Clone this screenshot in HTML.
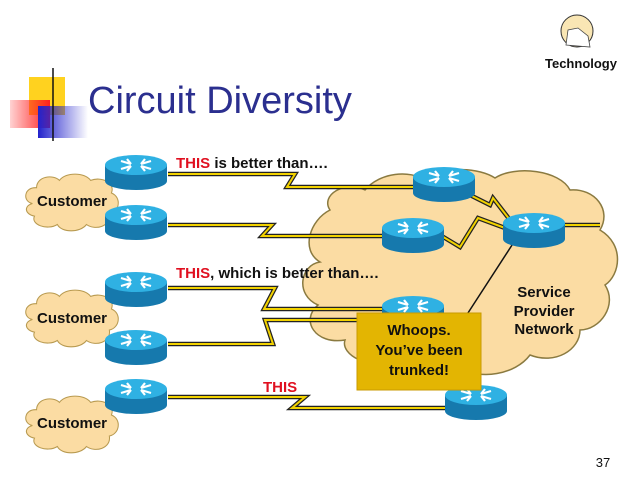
<!DOCTYPE html>
<html><head><style>
body{margin:0;background:#fff;width:638px;height:478px;overflow:hidden;font-family:"Liberation Sans",Arial,sans-serif}
</style></head><body>
<svg width="638" height="478" viewBox="0 0 638 478" xmlns="http://www.w3.org/2000/svg" font-family="Liberation Sans, Arial, sans-serif">
<defs>
<linearGradient id="rg" x1="0" x2="1"><stop offset="0" stop-color="#ff2020" stop-opacity="0.2"/><stop offset="1" stop-color="#ff2020"/></linearGradient>
<linearGradient id="bg" x1="0" x2="1"><stop offset="0" stop-color="#2222cc"/><stop offset="1" stop-color="#2222cc" stop-opacity="0"/></linearGradient>
<linearGradient id="lg" x1="0" x2="1"><stop offset="0" stop-color="#000"/><stop offset="1" stop-color="#000" stop-opacity="0.1"/></linearGradient>
<g id="router">
<path d="M0,10 L0,26 A31,9 0 0 0 62,26 L62,10 Z" fill="#1679ad"/>
<ellipse cx="31" cy="10" rx="31" ry="10" fill="#2fb1e3"/>
<g stroke="#fff" stroke-width="2.2" fill="none">
<path d="M16,6 L26,9 M22,4 L26,9 M36,11 L46,14 M36,11 L40,16 M46,6 L36,9 M40,4 L36,9 M26,11 L16,14 M26,11 L22,16"/>
</g>
</g>
<path id="cust" d="M10,30 C0,28 2,14 14,15 C14,4 30,2 36,8 C42,0 60,0 66,8 C76,4 90,10 86,20 C96,24 94,38 84,40 C86,52 70,56 62,50 C56,58 38,58 34,50 C24,56 8,50 12,42 C2,40 2,32 10,30 Z" fill="#fbdca3" stroke="#b89a50" stroke-width="1"/>
</defs>
<rect x="29" y="77" width="36" height="38" fill="#ffd21f"/>
<rect x="10" y="100" width="40" height="28" fill="url(#rg)"/>
<rect x="38" y="106" width="50" height="32" fill="url(#bg)"/>
<line x1="53" y1="68" x2="53" y2="141" stroke="#111" stroke-width="1.5"/>
<line x1="30" y1="124" x2="638" y2="124" stroke="url(#lg)" stroke-width="1.5"/>
<text x="88" y="113" font-size="38" fill="#2b2f8f">Circuit Diversity</text>
<circle cx="577" cy="31" r="16" fill="#f9e6b4" stroke="#333" stroke-width="1"/>
<path d="M566,45 L568,30 L578,28 L588,36 L590,47 Z" fill="#fff" stroke="#444" stroke-width="0.8"/>
<text x="581" y="68" font-size="13" font-weight="bold" text-anchor="middle" fill="#111">Technology</text>
<path d="M330,210 C320,195 345,180 365,190 C380,172 410,170 425,180 C445,165 480,168 495,178 C515,165 560,170 570,190 C595,188 612,210 600,230 C625,245 620,275 605,285 C618,305 600,330 580,330 C580,350 555,365 530,355 C515,375 480,380 460,368 C440,380 405,375 395,362 C370,370 340,355 345,340 C315,345 300,320 318,305 C295,295 300,265 320,262 C300,250 310,220 330,210 Z" fill="#fbdca3" stroke="#8a7a40" stroke-width="1.5"/>
<use href="#cust" transform="translate(22,172) scale(1.04,1.05)"/>
<use href="#cust" transform="translate(22,288) scale(1.04,1.05)"/>
<use href="#cust" transform="translate(22,394) scale(1.04,1.05)"/>
<g fill="none" stroke-linejoin="miter">
<g stroke="#222" stroke-width="4.5">
<path d="M168,174 L295,174 L287,187 L413,187"/>
<path d="M168,225 L272,225 L262,236 L382,236"/>
<path d="M168,288 L275,288 L264,309 L382,309"/>
<path d="M168,344 L273,344 L265,320 L360,320"/>
<path d="M168,397 L305,397 L292,408 L445,408"/>
<path d="M470,195 L490,205 L493,198 L510,220"/>
<path d="M440,235 L460,247 L478,218 L505,228"/>
<path d="M565,225 L600,225"/>
</g>
<g stroke="#f2d200" stroke-width="2">
<path d="M168,174 L295,174 L287,187 L413,187"/>
<path d="M168,225 L272,225 L262,236 L382,236"/>
<path d="M168,288 L275,288 L264,309 L382,309"/>
<path d="M168,344 L273,344 L265,320 L360,320"/>
<path d="M168,397 L305,397 L292,408 L445,408"/>
<path d="M470,195 L490,205 L493,198 L510,220"/>
<path d="M440,235 L460,247 L478,218 L505,228"/>
<path d="M565,225 L600,225"/>
</g>
</g>
<line x1="514" y1="242" x2="466" y2="316" stroke="#111" stroke-width="1.5"/>
<use href="#router" x="105" y="155"/>
<use href="#router" x="105" y="205"/>
<use href="#router" x="105" y="272"/>
<use href="#router" x="105" y="330"/>
<use href="#router" x="105" y="379"/>
<use href="#router" x="413" y="167"/>
<use href="#router" x="382" y="218"/>
<use href="#router" x="503" y="213"/>
<use href="#router" x="382" y="296"/>
<use href="#router" x="445" y="385"/>
<rect x="357" y="313" width="124" height="77" fill="#e3b502" stroke="#c99a00" stroke-width="1"/>
<g font-size="15" font-weight="bold" fill="#111" text-anchor="middle">
<text x="419" y="335">Whoops.</text>
<text x="419" y="355">You’ve been</text>
<text x="419" y="375">trunked!</text>
<text x="544" y="297">Service</text>
<text x="544" y="316">Provider</text>
<text x="544" y="334">Network</text>
</g>
<g font-size="15" font-weight="bold" fill="#111">
<text x="37" y="206">Customer</text>
<text x="37" y="323">Customer</text>
<text x="37" y="428">Customer</text>
<text x="176" y="168"><tspan fill="#e01020">THIS</tspan> is better than….</text>
<text x="176" y="278"><tspan fill="#e01020">THIS</tspan>, which is better than….</text>
<text x="263" y="392" fill="#e01020">THIS</text>
</g>
<text x="603" y="467" font-size="13" fill="#111" text-anchor="middle">37</text>
</svg>
</body></html>
